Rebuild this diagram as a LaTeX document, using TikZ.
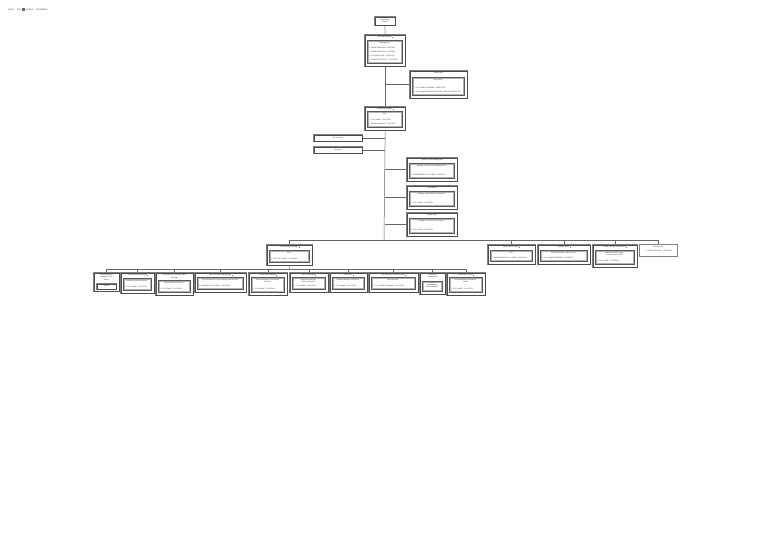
\documentclass[tikz,border=0pt]{standalone}
\usepackage{fontspec}
\setmainfont{Liberation Sans}
\usetikzlibrary{calc}
\newcommand\mk{\,\textcolor{red!80}{\rule{0.7pt}{0.7pt}}}
\tikzset{
  outerc/.style={draw=black!50, line width=1.3pt, fill=white, inner sep=0pt},
  thinb/.style={draw=black!70, line width=0.25pt},
  innerb/.style={draw=black!65, line width=0.35pt},
  inset/.style={draw=black!30, line width=0.25pt},
  link/.style={draw=black!60, line width=0.5pt},
  tx/.style={inner sep=0pt, font=\fontsize{1.7}{2.4}\selectfont, text=black!80},
  lx/.style={inner sep=0pt, font=\fontsize{1.7}{4}\selectfont, text=black!80},
  pbox/.style={draw=black!50, line width=0.8pt, fill=white, inner sep=0pt}
}
% name, x1, y1, x2, y2, title, inner-top, header, lines
\newcommand\card[9]{%
  \node[outerc, anchor=north west, minimum width={#4-#2}, minimum height={#5-#3}] (#1) at (#2,#3) {};
  \draw[thinb] ($(#1.north west)+(1.2,1.2)$) rectangle ($(#1.south east)+(-1.2,-1.2)$);
  \node[tx, align=center, anchor=north] at ($(#1.north)+(0,2.2)$) {#6};
  \draw[innerb] (#2+3,#7) rectangle (#4-3,#5-3);
  \draw[inset] (#2+3.8,#7+0.8) rectangle (#4-3.8,#5-3.8);
  \node[tx, align=center, anchor=north] at ({(#2+#4)/2},#7+1.8) {#8};
  \node[lx, align=left, anchor=south west] at (#2+5,#5-5.2) {#9};
}
% name, x1, y1, x2, y2, text
\newcommand\plainbox[6]{%
  \node[pbox, anchor=north west, minimum width={#4-#2}, minimum height={#5-#3}] (#1) at (#2,#3) {};
  \draw[thinb] ($(#1.north west)+(0.9,0.9)$) rectangle ($(#1.south east)+(-0.9,-0.9)$);
  \node[tx, align=center] at (#1.center) {#6};
}
\begin{document}
\begin{tikzpicture}[x=1pt,y=-1pt]
\useasboundingbox[fill=white] (0,0) rectangle (768,543);

% toolbar
\node[inner sep=0pt, font=\fontsize{2.3}{3}\selectfont, text=black!75, anchor=west] (tool) at (8,9.5) {Zoom \quad Pan \hspace{0.4pt}\textcolor{black!60}{\rule{2.6pt}{2.6pt}}\hspace{0.4pt} Outline \quad Get Outline};

% top
\plainbox{top}{374}{16}{395}{25}{Owner Name\\Position}

\card{n2}{364}{34}{405}{66}{General Manager\mk}{40}{Management}
 {1. NAME SURNAME - LOCATION\\1. NAME SURNAME - LOCATION\\1. CO-ORDINATOR - LOCATION\\1. ASSISTANT OFFICE - LOCATION}

\card{n3}{409}{70}{467}{98}{Head Office}{77}{Head Office}
 {1. FULL NAME SURNAME - DIRECTOR\\1. FULL NAME SURNAME SECOND - DEPUTY DIRECTOR}

\card{n4}{364}{106}{405}{130}{Operations Manager\mk}{111}{Ops}
 {1. FULL NAME - LOCATION\\1. NAME SURNAME - LOCATION}

\plainbox{s1}{313}{134}{362}{141}{HR Assistant}
\plainbox{s2}{313}{146}{362}{153}{Secretary}

\card{r1}{406}{157}{457}{181}{Finance \& Risk Management}{163}{Manager Finance \& Risk Management}
 {1. MANAGEMENT FULL NAME - LOCATION}
\card{r2}{406}{185}{457}{209}{Legal Affairs}{191}{Manager Legal Affairs \& Compliance}
 {1. FULL NAME - LOCATION}
\card{r3}{406}{212}{457}{236}{Supply Chain}{218}{Manager Procurement \& Logistics}
 {1. FULL NAME - LOCATION}

% second level
\card{L}{266}{244}{312}{265}{Site Operations Manager\mk}{250}{Sites}
 {1. SITE FULL NAME - LOCATION}
\card{R1}{487}{244}{535}{264}{Chief Finance Officer\mk}{250}{CFO}
 {1. MANAGEMENT FULL NAME - LOCATION}
\card{R2}{537}{244}{590}{264}{Quality Control\mk}{250}{General Manager Quality Control}
 {1. FULL NAME SURNAME - LOCATION}
\card{R3}{592}{244}{637}{267}{Health, Safety \& Environment\mk}{250}{Manager Health, Safety\\\& Environment (HSE)}
 {1. FULL NAME - LOCATION}
\node[pbox, anchor=north west, minimum width=38, minimum height=12] (R4) at (639,244) {};
\node[tx, anchor=north] at ($(R4.north)+(0,2)$) {Business Unit};
\node[tx, anchor=north] at ($(R4.north)+(0,6.5)$) {1. NAME SURNAME - LOCATION};

% third level
\node[outerc, line width=0.9pt, anchor=north west, minimum width=26, minimum height=19] (c1) at (93,272) {};
\draw[thinb] ($(c1.north west)+(1,1)$) rectangle ($(c1.south east)+(-1,-1)$);
\node[tx, align=center, anchor=north] at ($(c1.north)+(0,2)$) {Site Engineering\\Manager (Civil\\Works)};
\plainbox{c1v}{96}{283}{116}{289}{Vacant}
\card{c2}{120}{272}{154}{293}{Site Mechanical Manager\mk}{278}{Manager Mechanical Works}
 {1. FULL NAME - LOCATION}
\card{c3}{155}{272}{193}{295}{Site Electrical \& Instrumentation\\Manager}{280}{Manager Electrical Works}
 {1. FULL NAME - LOCATION}
\card{c4}{194}{272}{246}{292}{Site Commissioning Manager\mk}{277}{General Manager Commissioning Services (CS)}
 {1. MANAGER FULL NAME - LOCATION}
\card{c5}{248}{272}{287}{295}{Construction Manager\mk}{277}{General Manager Construction\\Services}
 {1. FULL NAME - LOCATION}
\card{c6}{289}{272}{328}{292}{Site Construction\mk}{277}{Operations Manager\\Site Construction}
 {1. FULL NAME - LOCATION}
\card{c7}{329}{272}{367}{292}{Camp Boss\mk}{277}{General Manager Camp Boss}
 {1. FULL NAME - LOCATION}
\card{c8}{368}{272}{418}{292}{Site Security \& Access Control\mk}{277}{Head of HSSE}
 {1. FULL NAME SURNAME - LOCATION}
\node[outerc, anchor=north west, minimum width=26, minimum height=22] (c9) at (419,272) {};
\draw[thinb] ($(c9.north west)+(1.2,1.2)$) rectangle ($(c9.south east)+(-1.2,-1.2)$);
\node[tx, align=center, anchor=north] at ($(c9.north)+(0,2)$) {Site Admin /\\Transportation};
\draw[innerb] (422,281) rectangle (442,291);
\draw[inset] (422.8,281.8) rectangle (441.2,290.2);
\node[tx, align=center] at (432,286) {Transportation\\Admin Assistant};
\card{c10}{446}{272}{485}{295}{Warehouse Section\mk}{277}{General Manager Warehouse\\Section}
 {1. FULL NAME - LOCATION}

% connectors
\coordinate (b0) at (384,240);
\coordinate (b1) at (289,269);
\draw[link] (top.south) -- (n2.north);
\draw[link] (n2.south) -- (n4.north);
\draw[link] (n3.west) -- (n3.west -| n2.south);
\draw[link] (n4.south) -- (b0);
\foreach \s in {s1,s2} \draw[link] (\s.east) -- (\s.east -| n4.south);
\foreach \r in {r1,r2,r3} \draw[link] (\r.west) -- (\r.west -| n4.south);
\draw[link] (L.north |- b0) -- (R4.north |- b0);
\foreach \r in {L,R1,R2,R3,R4} \draw[link] (\r.north |- b0) -- (\r.north);
\draw[link] (L.south) -- (b1);
\draw[link] (c1.north |- b1) -- (c10.north |- b1);
\foreach \c in {c1,c2,c3,c4,c5,c6,c7,c8,c9,c10} \draw[link] (\c.north |- b1) -- (\c.north);
\end{tikzpicture}
\end{document}
